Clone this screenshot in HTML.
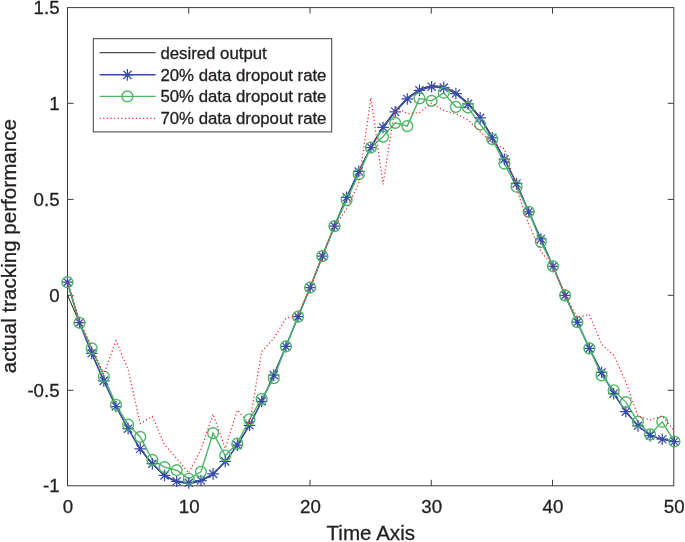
<!DOCTYPE html><html><head><meta charset="utf-8"><title>plot</title><style>html,body{margin:0;padding:0;background:#fff}svg{display:block}text{font-family:"Liberation Sans",Arial,sans-serif;fill:#231f20;stroke:#231f20;stroke-width:0.3px}</style></head><body>
<svg width="685" height="542" viewBox="0 0 685 542">
<rect width="685" height="542" fill="#fff"/>
<rect x="67.50" y="7.60" width="606.30" height="478.20" fill="none" stroke="#3c3c3c" stroke-width="1"/>
<text x="67.90" y="512.6" font-size="18.7" text-anchor="middle">0</text>
<path d="M188.76 485.80v-6 M188.76 7.60v6" stroke="#3c3c3c" stroke-width="1" fill="none"/>
<text x="189.16" y="512.6" font-size="18.7" text-anchor="middle">10</text>
<path d="M310.02 485.80v-6 M310.02 7.60v6" stroke="#3c3c3c" stroke-width="1" fill="none"/>
<text x="310.42" y="512.6" font-size="18.7" text-anchor="middle">20</text>
<path d="M431.28 485.80v-6 M431.28 7.60v6" stroke="#3c3c3c" stroke-width="1" fill="none"/>
<text x="431.68" y="512.6" font-size="18.7" text-anchor="middle">30</text>
<path d="M552.54 485.80v-6 M552.54 7.60v6" stroke="#3c3c3c" stroke-width="1" fill="none"/>
<text x="552.94" y="512.6" font-size="18.7" text-anchor="middle">40</text>
<text x="674.20" y="512.6" font-size="18.7" text-anchor="middle">50</text>
<text x="59.6" y="14.20" font-size="18.7" text-anchor="end">1.5</text>
<path d="M67.50 103.30h6 M673.80 103.30h-6" stroke="#3c3c3c" stroke-width="1" fill="none"/>
<text x="59.6" y="109.90" font-size="18.7" text-anchor="end">1</text>
<path d="M67.50 199.40h6 M673.80 199.40h-6" stroke="#3c3c3c" stroke-width="1" fill="none"/>
<text x="59.6" y="206.00" font-size="18.7" text-anchor="end">0.5</text>
<path d="M67.50 295.30h6 M673.80 295.30h-6" stroke="#3c3c3c" stroke-width="1" fill="none"/>
<text x="59.6" y="301.90" font-size="18.7" text-anchor="end">0</text>
<path d="M67.50 390.30h6 M673.80 390.30h-6" stroke="#3c3c3c" stroke-width="1" fill="none"/>
<text x="59.6" y="396.90" font-size="18.7" text-anchor="end">-0.5</text>
<text x="59.6" y="492.40" font-size="18.7" text-anchor="end">-1</text>
<text x="370.8" y="539.6" font-size="20.6" text-anchor="middle">Time Axis</text>
<text transform="translate(16.2,246.1) rotate(-90)" font-size="20.6" text-anchor="middle">actual tracking performance</text>
<polyline points="67.40,294.80 79.54,322.73 91.68,353.33 103.82,380.88 115.96,406.51 128.10,428.70 140.24,449.55 152.38,464.47 164.52,476.13 176.66,482.06 188.80,483.59 200.94,481.30 213.08,474.60 225.22,462.17 237.36,445.15 249.50,425.25 261.64,401.34 273.78,375.14 285.92,346.45 298.06,316.61 310.20,287.53 322.34,256.16 334.48,226.13 346.62,197.25 358.76,171.42 370.90,146.37 383.04,126.28 395.18,110.60 407.32,97.78 419.46,89.17 431.60,85.54 443.74,86.50 455.88,92.43 468.02,102.75 480.16,116.72 492.30,136.61 504.44,159.18 516.58,183.48 528.72,211.78 540.86,238.95 553.00,266.30 565.14,295.37 577.28,322.15 589.42,348.36 601.56,372.46 613.70,393.69 625.84,411.67 637.98,425.83 650.12,435.58 662.26,439.22 674.40,441.51" fill="none" stroke="#231f20" stroke-width="1"/>
<polyline points="67.40,282.18 79.54,322.73 91.68,353.33 103.82,380.88 115.96,406.51 128.10,428.70 140.24,448.78 152.38,463.70 164.52,475.37 176.66,481.30 188.80,482.83 200.94,480.53 213.08,473.84 225.22,461.40 237.36,445.15 249.50,425.25 261.64,401.34 273.78,375.14 285.92,346.45 298.06,316.61 310.20,287.53 322.34,256.16 334.48,226.13 346.62,197.25 358.76,171.42 370.90,147.51 383.04,127.43 395.18,111.75 407.32,98.93 419.46,90.32 431.60,86.69 443.74,87.64 455.88,93.57 468.02,103.90 480.16,117.87 492.30,137.76 504.44,159.18 516.58,183.48 528.72,211.78 540.86,238.95 553.00,266.30 565.14,295.37 577.28,322.15 589.42,348.36 601.56,372.46 613.70,393.69 625.84,411.67 637.98,425.83 650.12,435.58 662.26,439.22 674.40,441.51" fill="none" stroke="#384cac" stroke-width="1.5"/>
<polyline points="67.40,282.18 79.54,322.73 91.68,348.36 103.82,376.48 115.96,404.79 128.10,424.68 140.24,436.92 152.38,459.87 164.52,467.14 176.66,470.20 188.80,478.81 200.94,471.73 213.08,433.10 225.22,455.48 237.36,443.62 249.50,419.32 261.64,398.86 273.78,378.20 285.92,346.45 298.06,316.61 310.20,287.53 322.34,256.16 334.48,226.13 346.62,200.12 358.76,174.29 370.90,147.51 383.04,136.80 395.18,122.84 407.32,126.09 419.46,98.36 431.60,100.84 443.74,92.81 455.88,106.96 468.02,107.54 480.16,124.56 492.30,139.29 504.44,163.58 516.58,186.73 528.72,211.78 540.86,241.82 553.00,266.30 565.14,295.37 577.28,322.15 589.42,348.36 601.56,375.33 613.70,390.25 625.84,402.11 637.98,421.81 650.12,434.43 662.26,421.81 674.40,441.51" fill="none" stroke="#4eb666" stroke-width="1.4"/>
<path d="M67.40 276.38v11.60 M61.60 282.18h11.60 M63.30 278.07l8.20 8.20 M63.30 286.28l8.20 -8.20 M79.54 316.93v11.60 M73.74 322.73h11.60 M75.44 318.63l8.20 8.20 M75.44 326.83l8.20 -8.20 M91.68 347.53v11.60 M85.88 353.33h11.60 M87.58 349.23l8.20 8.20 M87.58 357.43l8.20 -8.20 M103.82 375.08v11.60 M98.02 380.88h11.60 M99.72 376.77l8.20 8.20 M99.72 384.98l8.20 -8.20 M115.96 400.71v11.60 M110.16 406.51h11.60 M111.86 402.41l8.20 8.20 M111.86 410.61l8.20 -8.20 M128.10 422.90v11.60 M122.30 428.70h11.60 M124.00 424.59l8.20 8.20 M124.00 432.80l8.20 -8.20 M140.24 442.98v11.60 M134.44 448.78h11.60 M136.14 444.68l8.20 8.20 M136.14 452.88l8.20 -8.20 M152.38 457.90v11.60 M146.58 463.70h11.60 M148.28 459.60l8.20 8.20 M148.28 467.80l8.20 -8.20 M164.52 469.57v11.60 M158.72 475.37h11.60 M160.42 471.27l8.20 8.20 M160.42 479.47l8.20 -8.20 M176.66 475.50v11.60 M170.86 481.30h11.60 M172.56 477.20l8.20 8.20 M172.56 485.40l8.20 -8.20 M188.80 477.03v11.60 M183.00 482.83h11.60 M184.70 478.73l8.20 8.20 M184.70 486.93l8.20 -8.20 M200.94 474.73v11.60 M195.14 480.53h11.60 M196.84 476.43l8.20 8.20 M196.84 484.63l8.20 -8.20 M213.08 468.04v11.60 M207.28 473.84h11.60 M208.98 469.74l8.20 8.20 M208.98 477.94l8.20 -8.20 M225.22 455.60v11.60 M219.42 461.40h11.60 M221.12 457.30l8.20 8.20 M221.12 465.51l8.20 -8.20 M237.36 439.35v11.60 M231.56 445.15h11.60 M233.26 441.04l8.20 8.20 M233.26 449.25l8.20 -8.20 M249.50 419.45v11.60 M243.70 425.25h11.60 M245.40 421.15l8.20 8.20 M245.40 429.35l8.20 -8.20 M261.64 395.54v11.60 M255.84 401.34h11.60 M257.54 397.24l8.20 8.20 M257.54 405.44l8.20 -8.20 M273.78 369.34v11.60 M267.98 375.14h11.60 M269.68 371.04l8.20 8.20 M269.68 379.24l8.20 -8.20 M285.92 340.65v11.60 M280.12 346.45h11.60 M281.82 342.34l8.20 8.20 M281.82 350.55l8.20 -8.20 M298.06 310.81v11.60 M292.26 316.61h11.60 M293.96 312.50l8.20 8.20 M293.96 320.71l8.20 -8.20 M310.20 281.73v11.60 M304.40 287.53h11.60 M306.10 283.43l8.20 8.20 M306.10 291.63l8.20 -8.20 M322.34 250.36v11.60 M316.54 256.16h11.60 M318.24 252.06l8.20 8.20 M318.24 260.26l8.20 -8.20 M334.48 220.33v11.60 M328.68 226.13h11.60 M330.38 222.03l8.20 8.20 M330.38 230.23l8.20 -8.20 M346.62 191.45v11.60 M340.82 197.25h11.60 M342.52 193.15l8.20 8.20 M342.52 201.35l8.20 -8.20 M358.76 165.62v11.60 M352.96 171.42h11.60 M354.66 167.32l8.20 8.20 M354.66 175.53l8.20 -8.20 M370.90 141.71v11.60 M365.10 147.51h11.60 M366.80 143.41l8.20 8.20 M366.80 151.62l8.20 -8.20 M383.04 121.63v11.60 M377.24 127.43h11.60 M378.94 123.33l8.20 8.20 M378.94 131.53l8.20 -8.20 M395.18 105.95v11.60 M389.38 111.75h11.60 M391.08 107.64l8.20 8.20 M391.08 115.85l8.20 -8.20 M407.32 93.13v11.60 M401.52 98.93h11.60 M403.22 94.83l8.20 8.20 M403.22 103.03l8.20 -8.20 M419.46 84.52v11.60 M413.66 90.32h11.60 M415.36 86.22l8.20 8.20 M415.36 94.42l8.20 -8.20 M431.60 80.89v11.60 M425.80 86.69h11.60 M427.50 82.59l8.20 8.20 M427.50 90.79l8.20 -8.20 M443.74 81.84v11.60 M437.94 87.64h11.60 M439.64 83.54l8.20 8.20 M439.64 91.74l8.20 -8.20 M455.88 87.77v11.60 M450.08 93.57h11.60 M451.78 89.47l8.20 8.20 M451.78 97.67l8.20 -8.20 M468.02 98.10v11.60 M462.22 103.90h11.60 M463.92 99.80l8.20 8.20 M463.92 108.00l8.20 -8.20 M480.16 112.07v11.60 M474.36 117.87h11.60 M476.06 113.76l8.20 8.20 M476.06 121.97l8.20 -8.20 M492.30 131.96v11.60 M486.50 137.76h11.60 M488.20 133.66l8.20 8.20 M488.20 141.86l8.20 -8.20 M504.44 153.38v11.60 M498.64 159.18h11.60 M500.34 155.08l8.20 8.20 M500.34 163.28l8.20 -8.20 M516.58 177.68v11.60 M510.78 183.48h11.60 M512.48 179.37l8.20 8.20 M512.48 187.58l8.20 -8.20 M528.72 205.98v11.60 M522.92 211.78h11.60 M524.62 207.68l8.20 8.20 M524.62 215.89l8.20 -8.20 M540.86 233.15v11.60 M535.06 238.95h11.60 M536.76 234.85l8.20 8.20 M536.76 243.05l8.20 -8.20 M553.00 260.50v11.60 M547.20 266.30h11.60 M548.90 262.20l8.20 8.20 M548.90 270.40l8.20 -8.20 M565.14 289.57v11.60 M559.34 295.37h11.60 M561.04 291.27l8.20 8.20 M561.04 299.48l8.20 -8.20 M577.28 316.35v11.60 M571.48 322.15h11.60 M573.18 318.05l8.20 8.20 M573.18 326.25l8.20 -8.20 M589.42 342.56v11.60 M583.62 348.36h11.60 M585.32 344.26l8.20 8.20 M585.32 352.46l8.20 -8.20 M601.56 366.66v11.60 M595.76 372.46h11.60 M597.46 368.36l8.20 8.20 M597.46 376.56l8.20 -8.20 M613.70 387.89v11.60 M607.90 393.69h11.60 M609.60 389.59l8.20 8.20 M609.60 397.79l8.20 -8.20 M625.84 405.87v11.60 M620.04 411.67h11.60 M621.74 407.57l8.20 8.20 M621.74 415.77l8.20 -8.20 M637.98 420.03v11.60 M632.18 425.83h11.60 M633.88 421.73l8.20 8.20 M633.88 429.93l8.20 -8.20 M650.12 429.78v11.60 M644.32 435.58h11.60 M646.02 431.48l8.20 8.20 M646.02 439.68l8.20 -8.20 M662.26 433.42v11.60 M656.46 439.22h11.60 M658.16 435.12l8.20 8.20 M658.16 443.32l8.20 -8.20 M674.40 435.71v11.60 M668.60 441.51h11.60 M670.30 437.41l8.20 8.20 M670.30 445.61l8.20 -8.20" stroke="#384cac" stroke-width="1.25" fill="none"/>
<circle cx="67.40" cy="282.18" r="5.4" fill="none" stroke="#4eb666" stroke-width="1.4"/>
<circle cx="79.54" cy="322.73" r="5.4" fill="none" stroke="#4eb666" stroke-width="1.4"/>
<circle cx="91.68" cy="348.36" r="5.4" fill="none" stroke="#4eb666" stroke-width="1.4"/>
<circle cx="103.82" cy="376.48" r="5.4" fill="none" stroke="#4eb666" stroke-width="1.4"/>
<circle cx="115.96" cy="404.79" r="5.4" fill="none" stroke="#4eb666" stroke-width="1.4"/>
<circle cx="128.10" cy="424.68" r="5.4" fill="none" stroke="#4eb666" stroke-width="1.4"/>
<circle cx="140.24" cy="436.92" r="5.4" fill="none" stroke="#4eb666" stroke-width="1.4"/>
<circle cx="152.38" cy="459.87" r="5.4" fill="none" stroke="#4eb666" stroke-width="1.4"/>
<circle cx="164.52" cy="467.14" r="5.4" fill="none" stroke="#4eb666" stroke-width="1.4"/>
<circle cx="176.66" cy="470.20" r="5.4" fill="none" stroke="#4eb666" stroke-width="1.4"/>
<circle cx="188.80" cy="478.81" r="5.4" fill="none" stroke="#4eb666" stroke-width="1.4"/>
<circle cx="200.94" cy="471.73" r="5.4" fill="none" stroke="#4eb666" stroke-width="1.4"/>
<circle cx="213.08" cy="433.10" r="5.4" fill="none" stroke="#4eb666" stroke-width="1.4"/>
<circle cx="225.22" cy="455.48" r="5.4" fill="none" stroke="#4eb666" stroke-width="1.4"/>
<circle cx="237.36" cy="443.62" r="5.4" fill="none" stroke="#4eb666" stroke-width="1.4"/>
<circle cx="249.50" cy="419.32" r="5.4" fill="none" stroke="#4eb666" stroke-width="1.4"/>
<circle cx="261.64" cy="398.86" r="5.4" fill="none" stroke="#4eb666" stroke-width="1.4"/>
<circle cx="273.78" cy="378.20" r="5.4" fill="none" stroke="#4eb666" stroke-width="1.4"/>
<circle cx="285.92" cy="346.45" r="5.4" fill="none" stroke="#4eb666" stroke-width="1.4"/>
<circle cx="298.06" cy="316.61" r="5.4" fill="none" stroke="#4eb666" stroke-width="1.4"/>
<circle cx="310.20" cy="287.53" r="5.4" fill="none" stroke="#4eb666" stroke-width="1.4"/>
<circle cx="322.34" cy="256.16" r="5.4" fill="none" stroke="#4eb666" stroke-width="1.4"/>
<circle cx="334.48" cy="226.13" r="5.4" fill="none" stroke="#4eb666" stroke-width="1.4"/>
<circle cx="346.62" cy="200.12" r="5.4" fill="none" stroke="#4eb666" stroke-width="1.4"/>
<circle cx="358.76" cy="174.29" r="5.4" fill="none" stroke="#4eb666" stroke-width="1.4"/>
<circle cx="370.90" cy="147.51" r="5.4" fill="none" stroke="#4eb666" stroke-width="1.4"/>
<circle cx="383.04" cy="136.80" r="5.4" fill="none" stroke="#4eb666" stroke-width="1.4"/>
<circle cx="395.18" cy="122.84" r="5.4" fill="none" stroke="#4eb666" stroke-width="1.4"/>
<circle cx="407.32" cy="126.09" r="5.4" fill="none" stroke="#4eb666" stroke-width="1.4"/>
<circle cx="419.46" cy="98.36" r="5.4" fill="none" stroke="#4eb666" stroke-width="1.4"/>
<circle cx="431.60" cy="100.84" r="5.4" fill="none" stroke="#4eb666" stroke-width="1.4"/>
<circle cx="443.74" cy="92.81" r="5.4" fill="none" stroke="#4eb666" stroke-width="1.4"/>
<circle cx="455.88" cy="106.96" r="5.4" fill="none" stroke="#4eb666" stroke-width="1.4"/>
<circle cx="468.02" cy="107.54" r="5.4" fill="none" stroke="#4eb666" stroke-width="1.4"/>
<circle cx="480.16" cy="124.56" r="5.4" fill="none" stroke="#4eb666" stroke-width="1.4"/>
<circle cx="492.30" cy="139.29" r="5.4" fill="none" stroke="#4eb666" stroke-width="1.4"/>
<circle cx="504.44" cy="163.58" r="5.4" fill="none" stroke="#4eb666" stroke-width="1.4"/>
<circle cx="516.58" cy="186.73" r="5.4" fill="none" stroke="#4eb666" stroke-width="1.4"/>
<circle cx="528.72" cy="211.78" r="5.4" fill="none" stroke="#4eb666" stroke-width="1.4"/>
<circle cx="540.86" cy="241.82" r="5.4" fill="none" stroke="#4eb666" stroke-width="1.4"/>
<circle cx="553.00" cy="266.30" r="5.4" fill="none" stroke="#4eb666" stroke-width="1.4"/>
<circle cx="565.14" cy="295.37" r="5.4" fill="none" stroke="#4eb666" stroke-width="1.4"/>
<circle cx="577.28" cy="322.15" r="5.4" fill="none" stroke="#4eb666" stroke-width="1.4"/>
<circle cx="589.42" cy="348.36" r="5.4" fill="none" stroke="#4eb666" stroke-width="1.4"/>
<circle cx="601.56" cy="375.33" r="5.4" fill="none" stroke="#4eb666" stroke-width="1.4"/>
<circle cx="613.70" cy="390.25" r="5.4" fill="none" stroke="#4eb666" stroke-width="1.4"/>
<circle cx="625.84" cy="402.11" r="5.4" fill="none" stroke="#4eb666" stroke-width="1.4"/>
<circle cx="637.98" cy="421.81" r="5.4" fill="none" stroke="#4eb666" stroke-width="1.4"/>
<circle cx="650.12" cy="434.43" r="5.4" fill="none" stroke="#4eb666" stroke-width="1.4"/>
<circle cx="662.26" cy="421.81" r="5.4" fill="none" stroke="#4eb666" stroke-width="1.4"/>
<circle cx="674.40" cy="441.51" r="5.4" fill="none" stroke="#4eb666" stroke-width="1.4"/>
<polyline points="67.40,282.18 79.54,320.81 91.68,346.83 103.82,374.18 115.96,340.71 128.10,369.40 140.24,423.53 152.38,416.45 164.52,444.57 176.66,458.54 188.80,473.07 200.94,449.55 213.08,414.16 225.22,448.40 237.36,410.14 249.50,423.91 261.64,351.61 273.78,338.41 285.92,318.33 298.06,314.88 310.20,287.53 322.34,256.16 334.48,226.13 346.62,208.92 358.76,183.28 370.90,97.78 383.04,184.43 395.18,106.58 407.32,113.66 419.46,112.70 431.60,103.14 443.74,110.60 455.88,113.66 468.02,119.97 480.16,131.64 492.30,142.73 504.44,148.85 516.58,188.64 528.72,224.22 540.86,251.38 553.00,266.30 565.14,295.37 577.28,317.37 589.42,314.50 601.56,344.15 613.70,355.24 625.84,381.83 637.98,416.26 650.12,420.09 662.26,415.88 674.40,431.18" fill="none" stroke="#ee2a2a" stroke-width="1.25" stroke-dasharray="1.2 2.42"/>
<rect x="93.3" y="38.7" width="238.4" height="93.2" fill="#fff" stroke="#3c3c3c" stroke-width="1"/>
<path d="M99.6 52.70H155.6" stroke="#231f20" stroke-width="1"/>
<path d="M99.6 74.70H155.6" stroke="#384cac" stroke-width="1.5"/>
<path d="M127.40 69.10v11.60 M121.60 74.90h11.60 M123.30 70.80l8.20 8.20 M123.30 79.00l8.20 -8.20" stroke="#384cac" stroke-width="1.25" fill="none"/>
<path d="M99.6 96.40H155.6" stroke="#4eb666" stroke-width="1.4"/>
<circle cx="127.4" cy="96.40" r="5.4" fill="none" stroke="#4eb666" stroke-width="1.4"/>
<path d="M99.6 118.40H155.6" stroke="#ee2a2a" stroke-width="1.25" stroke-dasharray="1.2 2.42"/>
<text x="160.4" y="58.70" font-size="16.8">desired output</text>
<text x="160.4" y="80.70" font-size="16.8">20% data dropout rate</text>
<text x="160.4" y="102.40" font-size="16.8">50% data dropout rate</text>
<text x="160.4" y="124.40" font-size="16.8">70% data dropout rate</text>
</svg></body></html>
